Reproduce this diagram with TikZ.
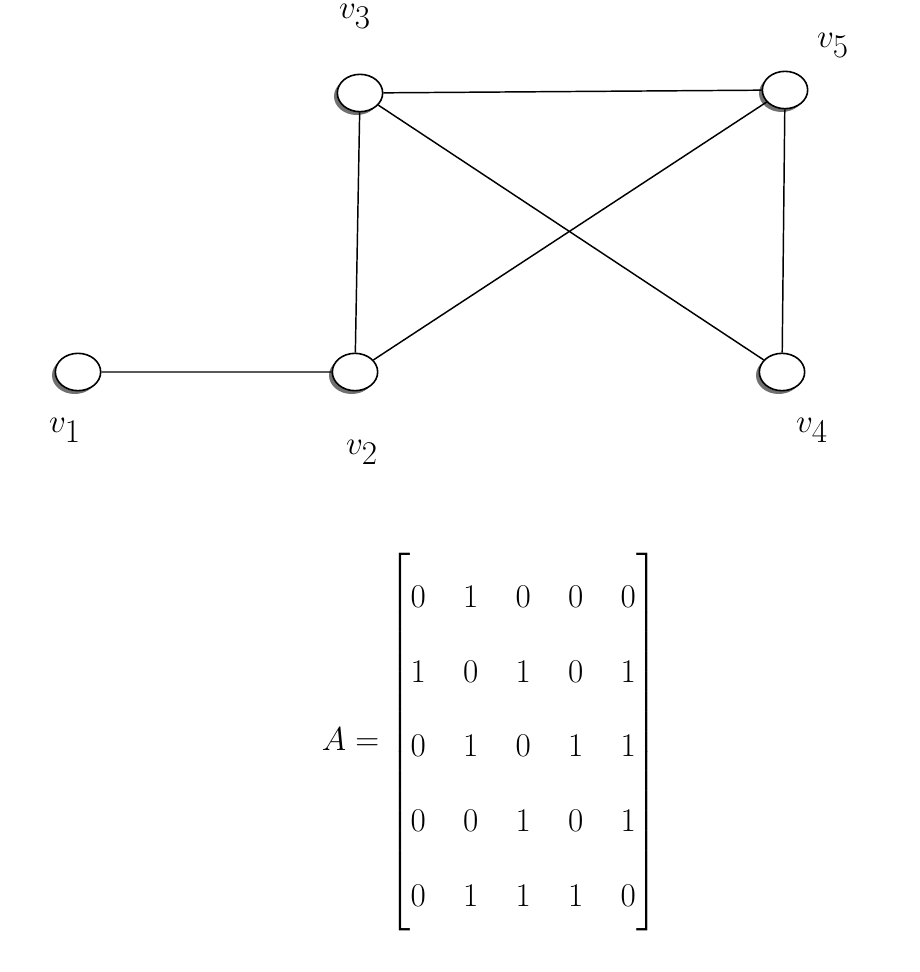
\documentclass[tikz,border=0pt]{standalone}
\usepackage{amsmath}
\usetikzlibrary{shadows,shapes.geometric}
\begin{document}
\begin{tikzpicture}[x=0.75pt,y=-0.75pt,
  vert/.style={ellipse,draw,line width=1.2pt,fill=white,minimum width=34pt,minimum height=28pt,inner sep=0pt,
    drop shadow={shadow xshift=-2.5pt,shadow yshift=-2.5pt,opacity=0.7,fill=black!80}},
  lbl/.style={font=\fontsize{44}{50}\selectfont},
  edge/.style={line width=1.1pt}]
\useasboundingbox (0,0) rectangle (920,972);
\node[vert] (v1) at (78,372) {};
\node[vert] (v2) at (355,372) {};
\node[vert] (v3) at (360,93) {};
\node[vert] (v5) at (785,90) {};
\node[vert] (v4) at (782,372) {};
\draw[edge] (v1)--(v2) (v2)--(v3) (v2)--(v5) (v3)--(v5) (v3)--(v4) (v5)--(v4);
\node[lbl] (l1) at (65,430) {$v_1$};
\node[lbl] (l2) at (362,452) {$v_2$};
\node[lbl] (l3) at (355,16) {$v_3$};
\node[lbl] (l5) at (833,45) {$v_5$};
\node[lbl] (l4) at (812,430) {$v_4$};
\node[font=\fontsize{50}{56}\selectfont] (A) at (490,742) {\setlength{\arraycolsep}{14pt}$A=\begin{bmatrix}0&1&0&0&0\\1&0&1&0&1\\0&1&0&1&1\\0&0&1&0&1\\0&1&1&1&0\end{bmatrix}$};
\end{tikzpicture}
\end{document}
